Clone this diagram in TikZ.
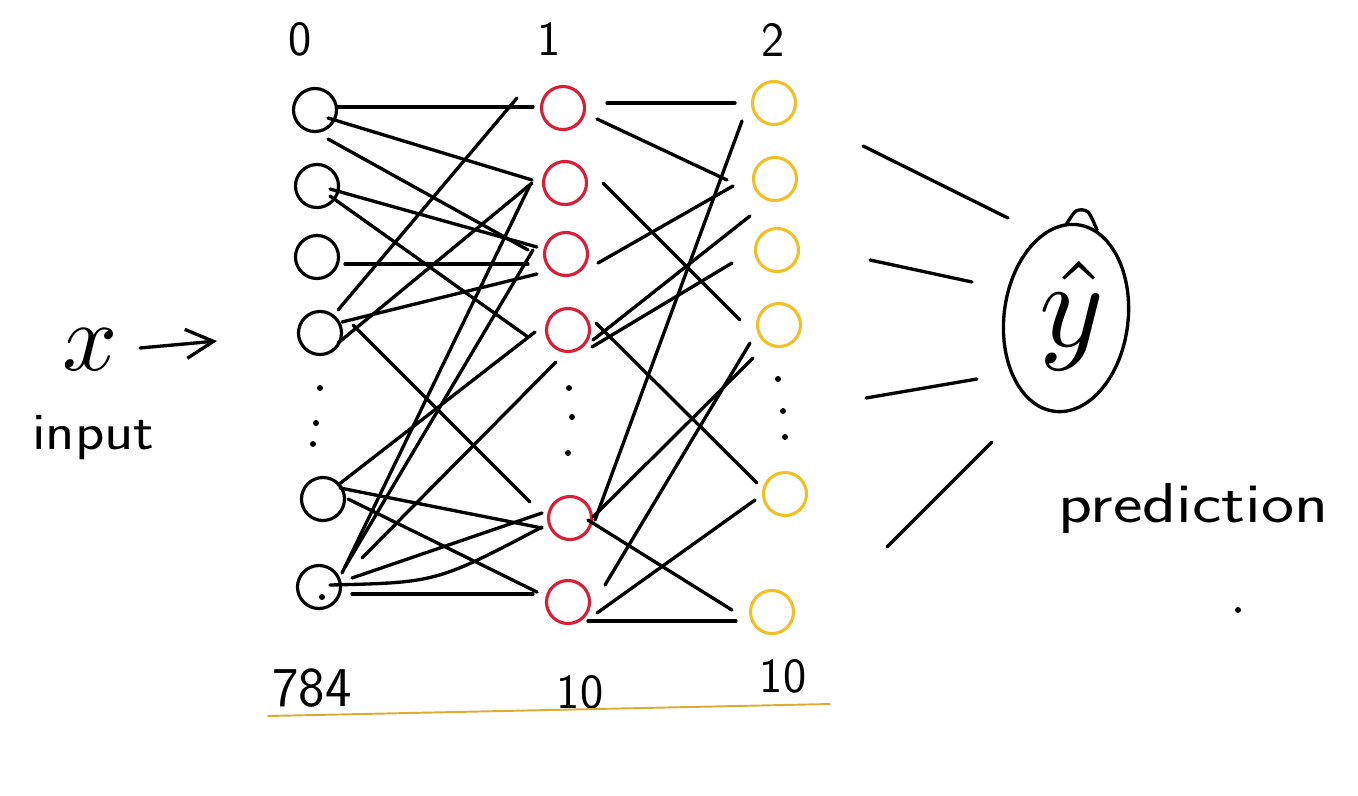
\documentclass[tikz,border=0pt]{standalone}
\usetikzlibrary{calc,shapes.geometric,arrows.meta}
\definecolor{nred}{RGB}{214,32,56}
\definecolor{nyel}{RGB}{240,192,40}
\definecolor{uline}{RGB}{222,170,50}
\newcommand\lnk[4]{\draw[conn] ($(#1)+(#2)$) -- ($(#3)+(#4)$);}
\begin{document}
\begin{tikzpicture}[x=0.02cm,y=-0.02cm,line cap=round,line join=round,
  conn/.style={line width=1.9pt,black},
  neuron/.style={circle,draw,line width=1.8pt,minimum size=0.86cm,inner sep=0pt},
  lzero/.style={neuron,black},
  lone/.style={neuron,nred},
  ltwo/.style={neuron,nyel},
  lbl/.style={font=\sffamily\fontsize{28}{30}\selectfont,inner sep=0pt,anchor=base},
  dotm/.style={fill=black}]
\useasboundingbox (0,0) rectangle (1358,795);

% layer 0
\node[lzero] (a1) at (315,110) {};
\node[lzero] (a2) at (317,186) {};
\node[lzero] (a3) at (317,257) {};
\node[lzero] (a4) at (320,333) {};
\node[lzero] (a5) at (323,499) {};
\node[lzero] (a6) at (319,587) {};
% layer 1
\node[lone] (b1) at (563,108) {};
\node[lone] (b2) at (565,183) {};
\node[lone] (b3) at (566,254) {};
\node[lone] (b4) at (568,330) {};
\node[lone] (b5) at (570,518) {};
\node[lone] (b6) at (568,602) {};
% layer 2
\node[ltwo] (c1) at (774,103) {};
\node[ltwo] (c2) at (775,179) {};
\node[ltwo] (c3) at (777,250) {};
\node[ltwo] (c4) at (779,325) {};
\node[ltwo] (c5) at (785,494) {};
\node[ltwo] (c6) at (772,612) {};

% output
\coordinate (yc) at (1066,318);
\draw[line width=1.9pt,rotate around={-7:(yc)}] (yc) ellipse [x radius=62, y radius=94];
\draw[conn] plot[smooth] coordinates {(1066,225) (1076,211) (1088,212) (1097,230)};
\node[inner sep=0pt,scale=7,transform shape] (yt) at (1072,316) {$\hat{y}$};

% dots
\foreach \p in {(320,388),(316,423),(313,444),(569,388),(572,417),(568,453),(778,379),(783,411),(785,437),(322,597),(1238,610)}
  \fill[dotm] \p circle (1.7pt);

% layer 0 -> layer 1
\lnk{a1}{22,-3}{b1}{-30,-1}
\lnk{a1}{13,8}{b2}{-33,-3}
\lnk{a1}{13,29}{b3}{-38,-4}
\lnk{b1}{-46,-10}{a4}{18,-23}
\lnk{a2}{13,3}{b3}{-29,-7}
\lnk{a2}{13,10}{b4}{-40,7}
\lnk{a3}{28,7}{b3}{-38,10}
\lnk{a4}{22,-11}{b3}{-29,20}
\lnk{b2}{-33,0}{a4}{18,10}
\lnk{b2}{-35,2}{a6}{23,-14}
\lnk{b3}{-33,-4}{a6}{26,-20}
\lnk{b4}{-12,32}{a6}{43,-29}
\lnk{b4}{-33,2}{a5}{15,-14}
\lnk{a4}{33,-8}{b5}{-40,-16}
\lnk{a5}{17,-11}{b5}{-28,10}
\lnk{a5}{25,0}{b6}{-31,-10}
\lnk{a6}{33,-9}{b5}{-28,-5}
\draw[conn] ($(a6)+(11,-2)$) .. controls ($(a6)!.5!(b5)+(-8,30)$) .. ($(b5)+(-28,9)$);
\lnk{a6}{33,7}{b6}{-35,-8}

% layer 1 -> layer 2
\lnk{b1}{44,-5}{c1}{-39,0}
\lnk{b1}{34,11}{c2}{-48,1}
\lnk{c1}{-32,18}{b5}{25,2}
\lnk{b2}{38,0}{c4}{-39,-5}
\lnk{b3}{32,9}{c2}{-42,7}
\lnk{c3}{-27,-34}{b4}{25,10}
\lnk{c3}{-45,13}{b4}{24,17}
\lnk{b4}{28,-7}{c5}{-28,-11}
\lnk{c4}{-29,18}{b6}{37,-17}
\lnk{c4}{-26,33}{b5}{23,-1}
\lnk{b5}{18,2}{c6}{-40,-2}
\lnk{b6}{29,11}{c5}{-30,6}
\lnk{b6}{20,19}{c6}{-36,9}

% layer 2 -> output
\coordinate (o1) at (863,146);
\coordinate (o2) at (870,260);
\coordinate (o3) at (866,398);
\coordinate (o4) at (887,547);
\draw[conn] (o1) -- ($(yc)+(-58,-100)$);
\draw[conn] (o2) -- ($(yc)+(-94,-36)$);
\draw[conn] (o3) -- ($(yc)+(-89,61)$);
\draw[conn] (o4) -- ($(yc)+(-74,124)$);

% labels
\node[lbl] (t0) at (300,55) {0};
\node[lbl] (t1) at (549,55) {1};
\node[lbl] (t2) at (773,56) {2};
\node[lbl,font=\sffamily\fontsize{32}{34}\selectfont] (n784) at (312,706) {784};
\node[lbl] (n10a) at (580,708) {10};
\node[lbl] (n10b) at (783,692) {10};
\draw[uline,line width=1.1pt] (268,716) -- (830,704);

% input
\node[inner sep=0pt,scale=5.5,transform shape] (xl) at (90,350) {$x$};
\coordinate (xa) at (140,348);
\coordinate (xb) at (217,341);
\draw[conn,-{Straight Barb[length=0.55cm,width=0.58cm,line width=1.9pt]}] (xa) -- (xb);
\node[lbl,anchor=base west,font=\sffamily\fontsize{30}{32}\selectfont,xscale=1.15,transform shape] (inp) at (32,449) {input};
\node[lbl,anchor=base west,font=\sffamily\fontsize{32}{34}\selectfont,xscale=1.25,transform shape] (pred) at (1058,522) {prediction};
\end{tikzpicture}
\end{document}
